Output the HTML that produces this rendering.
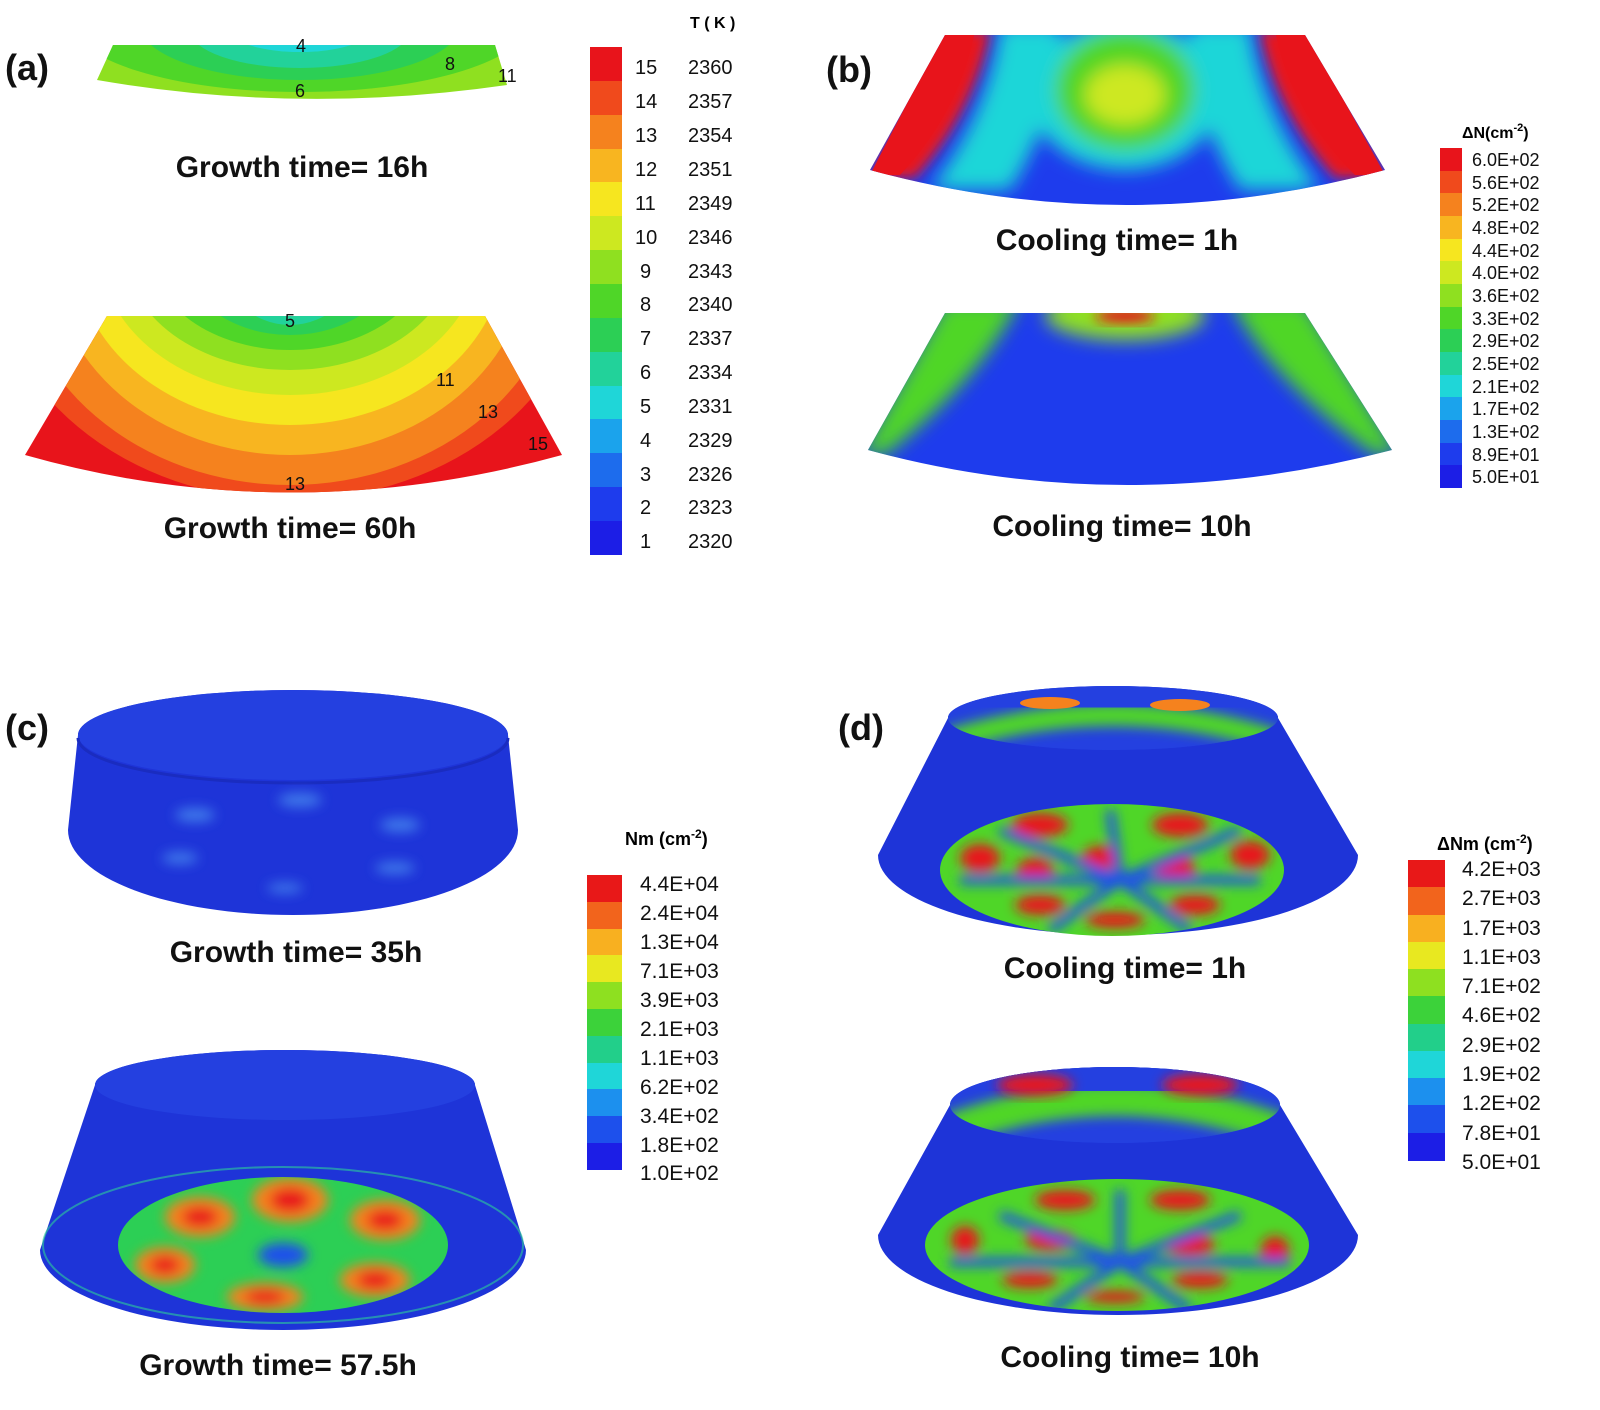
<!DOCTYPE html>
<html><head><meta charset="utf-8"><style>
body{margin:0;background:#fff}
svg{display:block}
text{font-family:"Liberation Sans",Arial,sans-serif}
.t{font-weight:bold;font-size:30px;text-anchor:middle;fill:#111}
.l{font-weight:bold;font-size:36px;fill:#111}
.a{font-size:20px;fill:#111}
.b{font-size:18px;fill:#111}
.c{font-size:21px;fill:#111}
</style></head><body>
<svg width="1600" height="1410" viewBox="0 0 1600 1410" xmlns="http://www.w3.org/2000/svg">
<defs>
<filter id="bl" x="-30%" y="-30%" width="160%" height="160%"><feGaussianBlur stdDeviation="14"/></filter>
<filter id="bm" x="-30%" y="-30%" width="160%" height="160%"><feGaussianBlur stdDeviation="9"/></filter>
<filter id="bs" x="-30%" y="-30%" width="160%" height="160%"><feGaussianBlur stdDeviation="6"/></filter>
<clipPath id="ca1"><path d="M113,45 L495,45 L507,85 Q300,115 97,80 Z"/></clipPath>
<clipPath id="ca2"><path d="M107,316 L485,316 L562,455 Q290,530 25,455 Z"/></clipPath>
<clipPath id="cb1"><path d="M945,35 L1305,35 L1385,170 Q1125,240 870,170 Z"/></clipPath>
<clipPath id="cb2"><path d="M945,313 L1305,313 L1392,450 Q1125,520 868,450 Z"/></clipPath>
<clipPath id="cc2"><ellipse cx="283" cy="1245" rx="165" ry="68"/></clipPath>
<clipPath id="cd1"><ellipse cx="1112" cy="870" rx="172" ry="66"/></clipPath>
<clipPath id="cd2"><ellipse cx="1117" cy="1245" rx="192" ry="66"/></clipPath>
<clipPath id="cdt1"><ellipse cx="1113" cy="718" rx="165" ry="32"/></clipPath>
<clipPath id="cdt2"><ellipse cx="1115" cy="1105" rx="165" ry="38"/></clipPath>
</defs>

<!-- Panel a -->
<text class="l" x="5" y="80">(a)</text>
<g clip-path="url(#ca1)">
<rect x="90" y="40" width="420" height="80" fill="#8fe020"/>
<ellipse cx="300" cy="20" rx="230" ry="72" fill="#4fd628"/>
<ellipse cx="300" cy="25" rx="160" ry="55" fill="#2ccf55"/>
<ellipse cx="300" cy="30" rx="110" ry="38" fill="#22d29a"/>
<ellipse cx="300" cy="30" rx="70" ry="22" fill="#1fd6d8"/>
</g>
<text class="b" x="296" y="52">4</text><text class="b" x="445" y="70">8</text><text class="b" x="498" y="82">11</text><text class="b" x="295" y="97">6</text>
<text class="t" x="302" y="177">Growth time= 16h</text>

<g clip-path="url(#ca2)">
<rect x="20" y="310" width="550" height="190" fill="#e8141b"/>
<ellipse cx="290" cy="250" rx="300" ry="250" fill="#f04a1c"/>
<ellipse cx="290" cy="250" rx="275" ry="235" fill="#f5821e"/>
<ellipse cx="290" cy="250" rx="240" ry="205" fill="#f8b520"/>
<ellipse cx="290" cy="250" rx="215" ry="175" fill="#f6e61f"/>
<ellipse cx="290" cy="250" rx="190" ry="145" fill="#cde820"/>
<ellipse cx="290" cy="250" rx="165" ry="120" fill="#8fe020"/>
<ellipse cx="290" cy="250" rx="140" ry="100" fill="#4fd628"/>
<ellipse cx="290" cy="250" rx="110" ry="85" fill="#2ccf55"/>
<ellipse cx="290" cy="255" rx="70" ry="70" fill="#22d29a"/>
</g>
<text class="b" x="285" y="327">5</text><text class="b" x="436" y="386">11</text><text class="b" x="478" y="418">13</text><text class="b" x="528" y="450">15</text><text class="b" x="285" y="490">13</text>
<text class="t" x="290" y="538">Growth time= 60h</text>

<text x="690" y="28" style="font-size:16px;font-weight:bold">T ( K )</text>
<g>
<rect x="590" y="47" width="32" height="34" fill="#e8141b"/><rect x="590" y="81" width="32" height="34" fill="#f04a1c"/><rect x="590" y="115" width="32" height="34" fill="#f5821e"/><rect x="590" y="149" width="32" height="34" fill="#f8b520"/><rect x="590" y="182" width="32" height="34" fill="#f6e61f"/><rect x="590" y="216" width="32" height="34" fill="#cde820"/><rect x="590" y="250" width="32" height="34" fill="#8fe020"/><rect x="590" y="284" width="32" height="34" fill="#4fd628"/><rect x="590" y="318" width="32" height="34" fill="#2ccf55"/><rect x="590" y="352" width="32" height="34" fill="#22d29a"/><rect x="590" y="386" width="32" height="34" fill="#1fd6d8"/><rect x="590" y="419" width="32" height="34" fill="#1ba3ec"/><rect x="590" y="453" width="32" height="34" fill="#1d6ced"/><rect x="590" y="487" width="32" height="34" fill="#1e3ced"/><rect x="590" y="521" width="32" height="34" fill="#1c1ee6"/>
</g>
<g class="a">
<text x="635" y="74">15</text><text x="635" y="108">14</text><text x="635" y="142">13</text><text x="635" y="176">12</text><text x="635" y="210">11</text><text x="635" y="244">10</text><text x="640" y="278">9</text><text x="640" y="311">8</text><text x="640" y="345">7</text><text x="640" y="379">6</text><text x="640" y="413">5</text><text x="640" y="447">4</text><text x="640" y="481">3</text><text x="640" y="514">2</text><text x="640" y="548">1</text>
<text x="688" y="74">2360</text><text x="688" y="108">2357</text><text x="688" y="142">2354</text><text x="688" y="176">2351</text><text x="688" y="210">2349</text><text x="688" y="244">2346</text><text x="688" y="278">2343</text><text x="688" y="311">2340</text><text x="688" y="345">2337</text><text x="688" y="379">2334</text><text x="688" y="413">2331</text><text x="688" y="447">2329</text><text x="688" y="481">2326</text><text x="688" y="514">2323</text><text x="688" y="548">2320</text>
</g>

<!-- Panel b -->
<text class="l" x="826" y="82">(b)</text>
<g clip-path="url(#cb1)">
<rect x="860" y="30" width="540" height="200" fill="#1e3ced"/>
<g filter="url(#bm)">
<path d="M1000,25 Q990,110 930,190 L1010,190 Q1060,110 1060,25 Z" fill="#1fd6d8"/>
<path d="M1250,25 Q1260,110 1320,190 L1240,190 Q1190,110 1190,25 Z" fill="#1fd6d8"/>
<ellipse cx="1125" cy="95" rx="95" ry="75" fill="#1fd6d8"/>
<ellipse cx="1125" cy="90" rx="70" ry="60" fill="#4fd628"/>
<ellipse cx="1125" cy="95" rx="40" ry="30" fill="#cde820"/>
</g>
<path d="M945,30 L990,30 Q975,110 915,178 L870,178 Z" fill="#e8141b" filter="url(#bs)"/>
<path d="M1305,30 L1260,30 Q1275,110 1335,178 L1385,178 Z" fill="#e8141b" filter="url(#bs)"/>
<path d="M945,30 L975,30 Q960,110 900,175 L870,175 Z" fill="#e8141b"/>
<path d="M1305,30 L1275,30 Q1290,110 1355,175 L1385,175 Z" fill="#e8141b"/>
</g>
<text class="t" x="1117" y="250">Cooling time= 1h</text>
<g clip-path="url(#cb2)">
<rect x="860" y="300" width="540" height="220" fill="#1e3ced"/>
<g filter="url(#bm)">
<path d="M945,300 L1020,300 Q980,380 885,455 L860,455 Z" fill="#4fd628"/>
<path d="M1305,300 L1230,300 Q1270,380 1375,455 L1400,455 Z" fill="#4fd628"/>
<ellipse cx="1125" cy="315" rx="80" ry="25" fill="#8fe020"/>
</g>
<ellipse cx="1125" cy="316" rx="30" ry="7" fill="#e8141b" filter="url(#bs)"/>
</g>
<text class="t" x="1122" y="536">Cooling time= 10h</text>
<text x="1462" y="138" style="font-size:16px;font-weight:bold">ΔN(cm<tspan dy="-7" font-size="11">-2</tspan><tspan dy="7">)</tspan></text>
<g>
<rect x="1440" y="148" width="22" height="23" fill="#e8141b"/><rect x="1440" y="171" width="22" height="23" fill="#f04a1c"/><rect x="1440" y="193" width="22" height="23" fill="#f5821e"/><rect x="1440" y="216" width="22" height="23" fill="#f8b520"/><rect x="1440" y="239" width="22" height="23" fill="#f6e61f"/><rect x="1440" y="261" width="22" height="23" fill="#cde820"/><rect x="1440" y="284" width="22" height="23" fill="#8fe020"/><rect x="1440" y="307" width="22" height="23" fill="#4fd628"/><rect x="1440" y="329" width="22" height="23" fill="#2ccf55"/><rect x="1440" y="352" width="22" height="23" fill="#22d29a"/><rect x="1440" y="375" width="22" height="23" fill="#1fd6d8"/><rect x="1440" y="397" width="22" height="23" fill="#1ba3ec"/><rect x="1440" y="420" width="22" height="23" fill="#1d6ced"/><rect x="1440" y="443" width="22" height="23" fill="#1e3ced"/><rect x="1440" y="465" width="22" height="23" fill="#1c1ee6"/>
</g>
<g class="b">
<text x="1472" y="166">6.0E+02</text><text x="1472" y="189">5.6E+02</text><text x="1472" y="211">5.2E+02</text><text x="1472" y="234">4.8E+02</text><text x="1472" y="257">4.4E+02</text><text x="1472" y="279">4.0E+02</text><text x="1472" y="302">3.6E+02</text><text x="1472" y="325">3.3E+02</text><text x="1472" y="347">2.9E+02</text><text x="1472" y="370">2.5E+02</text><text x="1472" y="393">2.1E+02</text><text x="1472" y="415">1.7E+02</text><text x="1472" y="438">1.3E+02</text><text x="1472" y="461">8.9E+01</text><text x="1472" y="483">5.0E+01</text>
</g>

<!-- Panel c -->
<text class="l" x="5" y="740">(c)</text>
<path d="M78,735 A215,45 0 0 1 508,735 L518,830 A225,85 0 0 1 68,830 Z" fill="#1e34d8"/>
<ellipse cx="293" cy="735" rx="215" ry="45" fill="#2440e0"/>
<path d="M78,738 A215,45 0 0 0 508,738" fill="none" stroke="#1a2cc0" stroke-width="3"/>
<g fill="#4a8cf0" opacity="0.8" filter="url(#bs)">
<ellipse cx="300" cy="800" rx="22" ry="7"/><ellipse cx="195" cy="815" rx="20" ry="7"/><ellipse cx="400" cy="825" rx="20" ry="7"/><ellipse cx="180" cy="858" rx="18" ry="6"/><ellipse cx="395" cy="868" rx="20" ry="6"/><ellipse cx="285" cy="888" rx="18" ry="5"/>
</g>
<text class="t" x="296" y="962">Growth time= 35h</text>

<path d="M95,1085 A190,35 0 0 1 475,1085 L526,1250 A243,80 0 0 1 40,1250 Z" fill="#1e34d8"/>
<ellipse cx="285" cy="1085" rx="190" ry="35" fill="#2440e0"/>
<ellipse cx="283" cy="1245" rx="240" ry="78" fill="none" stroke="#2ccf99" stroke-width="2" opacity="0.6"/>
<ellipse cx="283" cy="1245" rx="165" ry="68" fill="#2ccf55"/>
<g clip-path="url(#cc2)">
<g filter="url(#bs)">
<ellipse cx="290" cy="1200" rx="38" ry="22" fill="#f5821e"/><ellipse cx="200" cy="1217" rx="35" ry="20" fill="#f5821e"/><ellipse cx="385" cy="1220" rx="35" ry="20" fill="#f5821e"/>
<ellipse cx="165" cy="1265" rx="30" ry="18" fill="#f5821e"/><ellipse cx="375" cy="1280" rx="35" ry="17" fill="#f5821e"/><ellipse cx="265" cy="1297" rx="38" ry="14" fill="#f5821e"/>
<ellipse cx="290" cy="1200" rx="20" ry="12" fill="#e8141b"/><ellipse cx="200" cy="1217" rx="18" ry="10" fill="#e8141b"/><ellipse cx="385" cy="1220" rx="18" ry="10" fill="#e8141b"/><ellipse cx="165" cy="1265" rx="15" ry="9" fill="#e8141b"/><ellipse cx="375" cy="1280" rx="18" ry="9" fill="#e8141b"/><ellipse cx="265" cy="1297" rx="20" ry="7" fill="#e8141b"/>
<ellipse cx="283" cy="1255" rx="25" ry="12" fill="#1d50ec"/>
</g>
</g>
<text class="t" x="278" y="1375">Growth time= 57.5h</text>

<text x="625" y="845" style="font-size:18px;font-weight:bold">Nm (cm<tspan dy="-7" font-size="12">-2</tspan><tspan dy="7">)</tspan></text>
<g>
<rect x="587" y="875" width="35" height="27" fill="#e81818"/><rect x="587" y="902" width="35" height="27" fill="#f2641c"/><rect x="587" y="929" width="35" height="27" fill="#f8b020"/><rect x="587" y="955" width="35" height="27" fill="#e8e820"/><rect x="587" y="982" width="35" height="27" fill="#8ee020"/><rect x="587" y="1009" width="35" height="27" fill="#3cd23a"/><rect x="587" y="1036" width="35" height="27" fill="#22cf8a"/><rect x="587" y="1063" width="35" height="27" fill="#1fd6d8"/><rect x="587" y="1089" width="35" height="27" fill="#1c90ee"/><rect x="587" y="1116" width="35" height="27" fill="#1d50ec"/><rect x="587" y="1143" width="35" height="27" fill="#1c1ee6"/>
</g>
<g class="c">
<text x="640" y="891">4.4E+04</text><text x="640" y="920">2.4E+04</text><text x="640" y="949">1.3E+04</text><text x="640" y="978">7.1E+03</text><text x="640" y="1007">3.9E+03</text><text x="640" y="1036">2.1E+03</text><text x="640" y="1065">1.1E+03</text><text x="640" y="1094">6.2E+02</text><text x="640" y="1123">3.4E+02</text><text x="640" y="1152">1.8E+02</text><text x="640" y="1180">1.0E+02</text>
</g>

<!-- Panel d -->
<text class="l" x="838" y="740">(d)</text>
<path d="M948,718 A165,32 0 0 1 1278,718 L1358,855 A240,80 0 0 1 878,855 Z" fill="#1e34d8"/>
<ellipse cx="1113" cy="718" rx="165" ry="32" fill="#2440e0"/>
<g clip-path="url(#cdt1)">
<rect x="940" y="700" width="340" height="60" fill="#2440e0"/>
<path d="M950,740 Q1113,690 1275,740" stroke="#4fd628" stroke-width="22" fill="none" filter="url(#bs)"/>
<ellipse cx="1050" cy="703" rx="30" ry="6" fill="#f5821e"/><ellipse cx="1180" cy="705" rx="30" ry="6" fill="#f5821e"/>
</g>
<ellipse cx="1112" cy="870" rx="172" ry="66" fill="#4fd628"/>
<g clip-path="url(#cd1)" filter="url(#bs)">
<ellipse cx="1040" cy="825" rx="28" ry="12" fill="#e8141b"/><ellipse cx="1180" cy="825" rx="28" ry="12" fill="#e8141b"/><ellipse cx="980" cy="858" rx="20" ry="14" fill="#e8141b"/><ellipse cx="1250" cy="855" rx="20" ry="14" fill="#e8141b"/><ellipse cx="1100" cy="858" rx="18" ry="12" fill="#e8141b"/><ellipse cx="1175" cy="868" rx="20" ry="12" fill="#e8141b"/><ellipse cx="1035" cy="870" rx="18" ry="12" fill="#e8141b"/><ellipse cx="1040" cy="905" rx="25" ry="10" fill="#e8141b"/><ellipse cx="1195" cy="905" rx="25" ry="10" fill="#e8141b"/><ellipse cx="1115" cy="920" rx="30" ry="8" fill="#e8141b"/>
<path d="M1110,810 L1120,880 M960,880 L1120,880 M1260,880 L1120,880 M1050,930 L1120,880 M1190,930 L1120,880 M1000,830 L1120,880 M1240,830 L1120,880" stroke="#1d50ec" stroke-width="9"/>
</g>
<text class="t" x="1125" y="978">Cooling time= 1h</text>

<path d="M950,1105 A165,38 0 0 1 1280,1105 L1358,1235 A240,80 0 0 1 878,1235 Z" fill="#1e34d8"/>
<ellipse cx="1115" cy="1105" rx="165" ry="38" fill="#2440e0"/>
<g clip-path="url(#cdt2)">
<rect x="940" y="1060" width="340" height="90" fill="#2440e0"/>
<path d="M950,1130 Q1115,1070 1280,1130" stroke="#4fd628" stroke-width="32" fill="none" filter="url(#bs)"/>
<ellipse cx="1035" cy="1085" rx="38" ry="11" fill="#e8141b" filter="url(#bs)"/><ellipse cx="1200" cy="1085" rx="38" ry="11" fill="#e8141b" filter="url(#bs)"/>
</g>
<ellipse cx="1117" cy="1245" rx="192" ry="66" fill="#4fd628"/>
<g clip-path="url(#cd2)" filter="url(#bs)">
<ellipse cx="1065" cy="1200" rx="30" ry="10" fill="#e8141b"/><ellipse cx="1180" cy="1200" rx="30" ry="10" fill="#e8141b"/><ellipse cx="965" cy="1240" rx="14" ry="14" fill="#e8141b"/><ellipse cx="1275" cy="1250" rx="14" ry="14" fill="#e8141b"/><ellipse cx="1050" cy="1240" rx="25" ry="10" fill="#e8141b"/><ellipse cx="1190" cy="1245" rx="25" ry="10" fill="#e8141b"/><ellipse cx="1030" cy="1280" rx="28" ry="8" fill="#e8141b"/><ellipse cx="1200" cy="1280" rx="28" ry="8" fill="#e8141b"/><ellipse cx="1115" cy="1297" rx="30" ry="6" fill="#e8141b"/>
<path d="M1120,1190 L1120,1262 M950,1262 L1290,1262 M1050,1310 L1120,1262 M1190,1310 L1120,1262 M1000,1215 L1120,1262 M1240,1215 L1120,1262" stroke="#1d50ec" stroke-width="9"/>
</g>
<text class="t" x="1130" y="1367">Cooling time= 10h</text>

<text x="1437" y="850" style="font-size:18px;font-weight:bold">ΔNm (cm<tspan dy="-7" font-size="12">-2</tspan><tspan dy="7">)</tspan></text>
<g>
<rect x="1408" y="860" width="37" height="28" fill="#e81818"/><rect x="1408" y="887" width="37" height="28" fill="#f2641c"/><rect x="1408" y="915" width="37" height="28" fill="#f8b020"/><rect x="1408" y="942" width="37" height="28" fill="#e8e820"/><rect x="1408" y="969" width="37" height="28" fill="#8ee020"/><rect x="1408" y="996" width="37" height="28" fill="#3cd23a"/><rect x="1408" y="1024" width="37" height="28" fill="#22cf8a"/><rect x="1408" y="1051" width="37" height="28" fill="#1fd6d8"/><rect x="1408" y="1078" width="37" height="28" fill="#1c90ee"/><rect x="1408" y="1105" width="37" height="28" fill="#1d50ec"/><rect x="1408" y="1133" width="37" height="28" fill="#1c1ee6"/>
</g>
<g class="c">
<text x="1462" y="876">4.2E+03</text><text x="1462" y="905">2.7E+03</text><text x="1462" y="935">1.7E+03</text><text x="1462" y="964">1.1E+03</text><text x="1462" y="993">7.1E+02</text><text x="1462" y="1022">4.6E+02</text><text x="1462" y="1052">2.9E+02</text><text x="1462" y="1081">1.9E+02</text><text x="1462" y="1110">1.2E+02</text><text x="1462" y="1140">7.8E+01</text><text x="1462" y="1169">5.0E+01</text>
</g>
</svg>
</body></html>
